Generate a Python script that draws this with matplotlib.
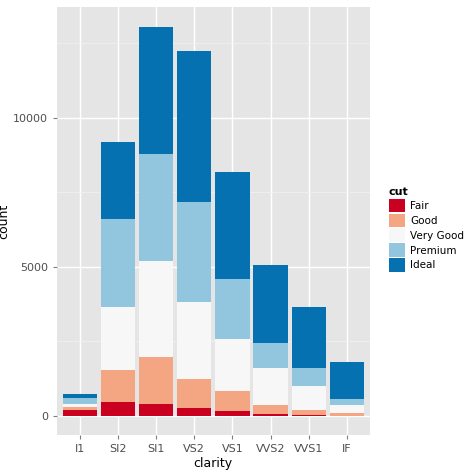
import matplotlib.pyplot as plt
import numpy as np
from matplotlib.patches import Patch

clarity = ["I1", "SI2", "SI1", "VS2", "VS1", "VVS2", "VVS1", "IF"]
cuts = ["Fair", "Good", "Very Good", "Premium", "Ideal"]
fair = [210, 466, 408, 261, 170, 69, 17, 9]
good = [96, 1081, 1560, 978, 648, 286, 186, 71]
very_good = [84, 2100, 3240, 2591, 1775, 1235, 789, 268]
premium = [205, 2949, 3575, 3357, 1989, 870, 616, 230]
ideal = [146, 2598, 4282, 5071, 3589, 2606, 2047, 1212]
colors = ["#CA0020", "#F4A582", "#F7F7F7", "#92C5DE", "#0571B0"]

fig = plt.figure(figsize=(4.74, 4.73), dpi=100)
ax = fig.add_axes([0.12, 0.08, 0.66, 0.905])
ax.set_facecolor("#E5E5E5")
x = np.arange(len(clarity))
bottom = np.zeros(len(clarity))
for vals, c in zip([fair, good, very_good, premium, ideal], colors):
    ax.bar(x, vals, 0.9, bottom=bottom, color=c, zorder=3)
    bottom += np.array(vals)

ax.set_xlim(-0.6, 7.6)
ax.set_ylim(-650, 13720)
ax.set_yticks([0, 5000, 10000])
ax.set_yticks([2500, 7500, 12500], minor=True)
ax.set_xticks(x)
ax.set_xticklabels(clarity)
ax.grid(True, which="major", color="white", linewidth=1.0, zorder=0)
ax.grid(True, which="minor", axis="y", color="#F2F2F2", linewidth=0.5, zorder=0)
for s in ax.spines.values():
    s.set_visible(False)
ax.tick_params(which="both", colors="#7F7F7F", labelcolor="#4D4D4D", labelsize=8, length=3)
ax.tick_params(which="minor", length=0)
ax.set_xlabel("clarity", fontsize=9, labelpad=2)
ax.set_ylabel("count", fontsize=9, labelpad=2)

handles = [Patch(facecolor=c, edgecolor="none") for c in colors]
leg = fig.legend(handles, cuts, loc="center left", bbox_to_anchor=(0.80, 0.515),
                 title="cut", frameon=False, fontsize=7.5, handlelength=1.6,
                 handleheight=1.6, labelspacing=0.15, handletextpad=0.5)
leg.get_title().set_fontweight("bold")
leg.get_title().set_fontsize(8)
leg._legend_box.align = "left"

fig.savefig("out.png", dpi=100)
